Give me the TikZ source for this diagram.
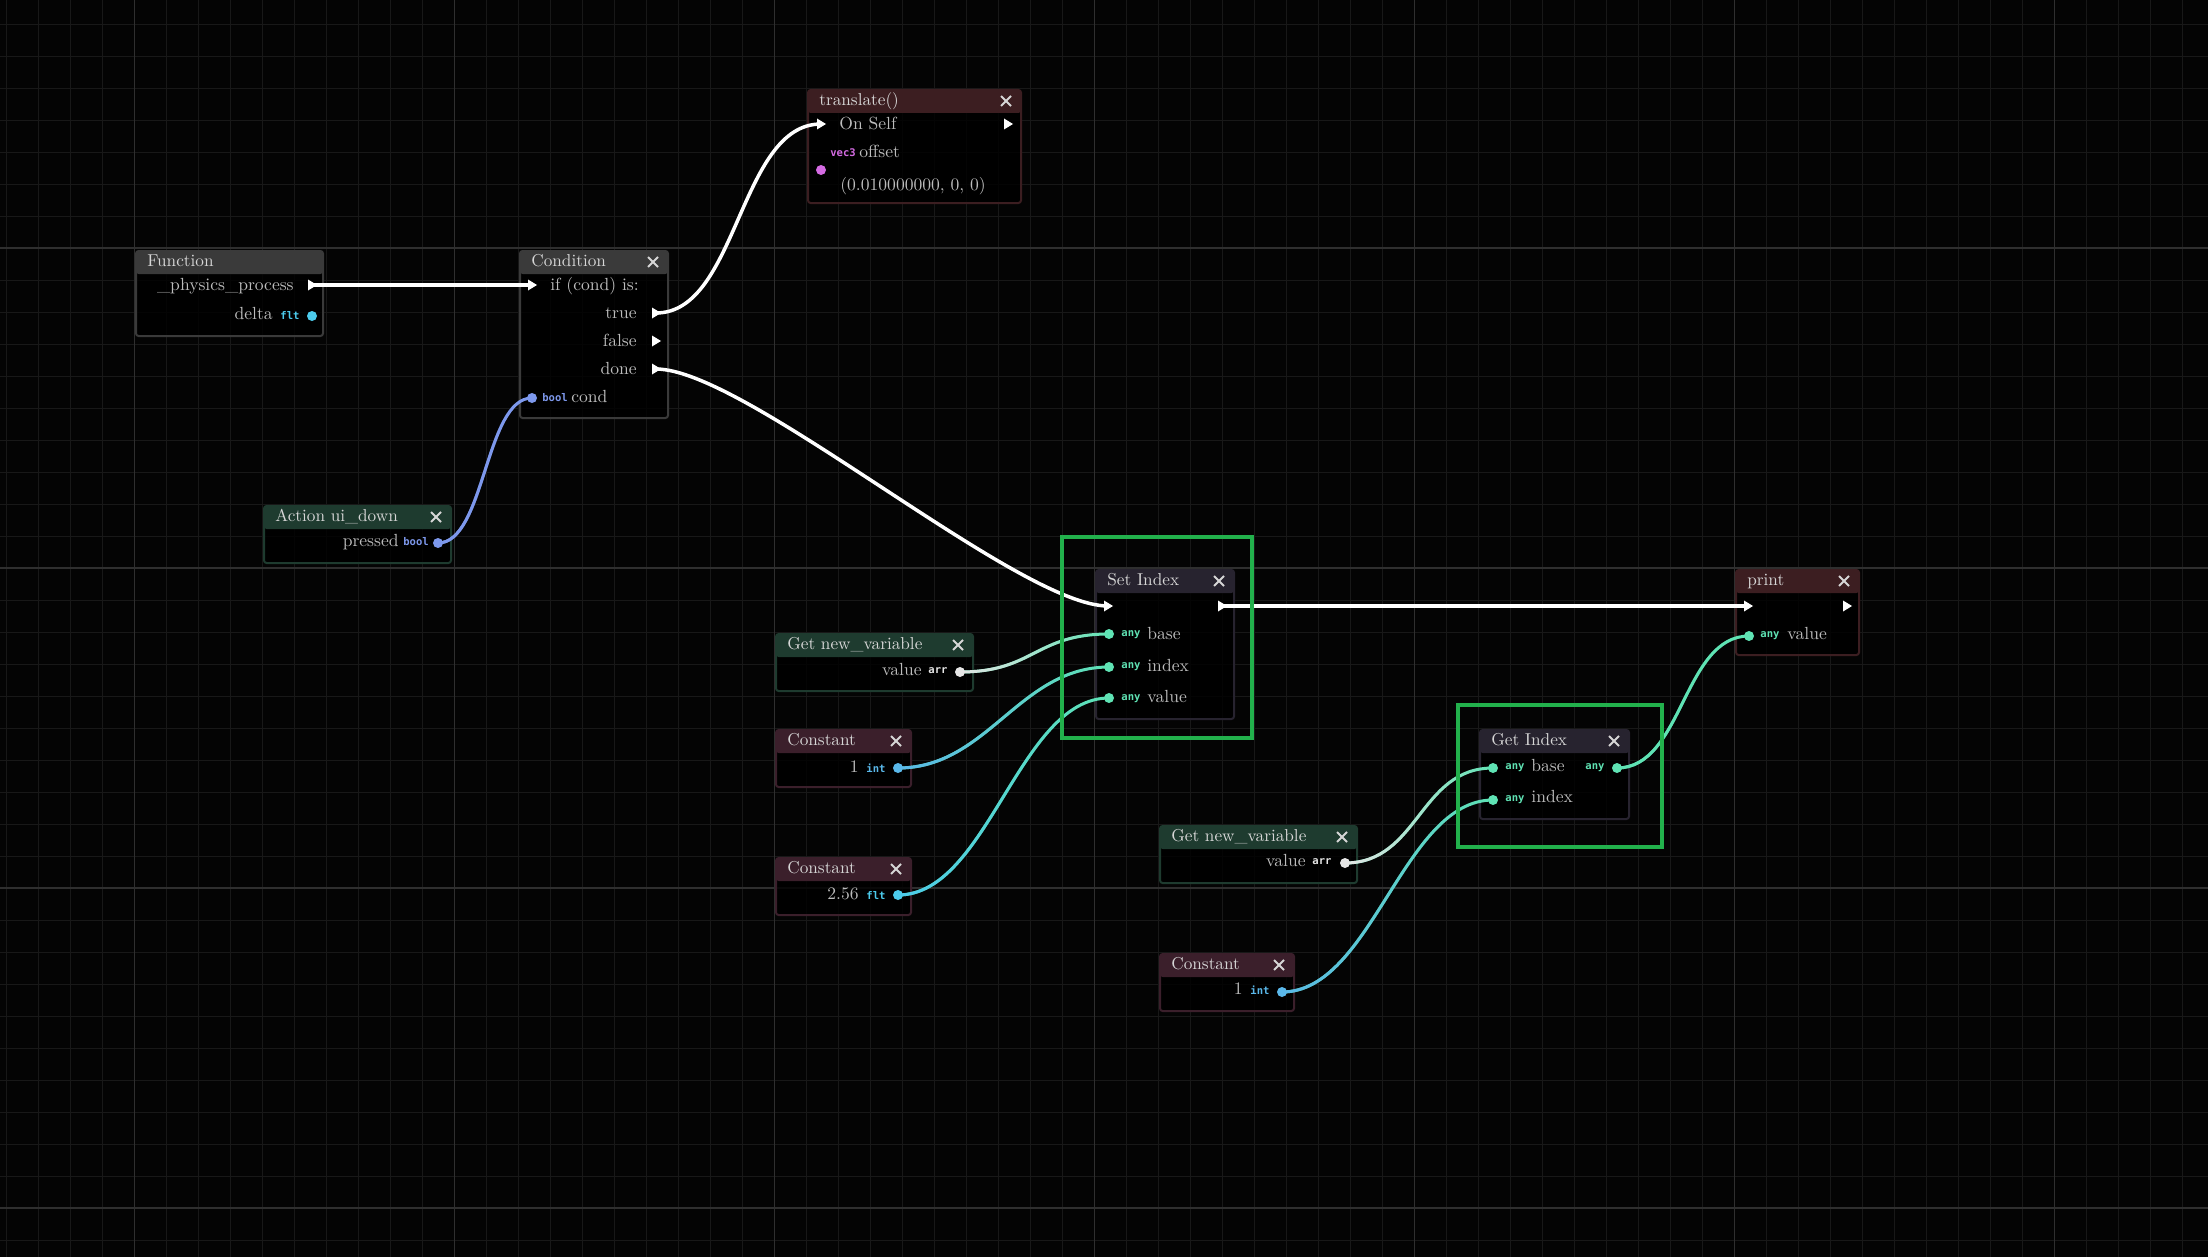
\documentclass[tikz,border=0pt]{standalone}
\usepackage{fontspec}
\newfontfamily\tagfont{DejaVu Sans Mono}
\usetikzlibrary{fadings}

\definecolor{bgc}{HTML}{040404}
\definecolor{gridminor}{HTML}{181818}
\definecolor{gridmajor}{HTML}{2F2F2F}
\definecolor{hdgrey}{HTML}{3A3A3A}
\definecolor{hdred}{HTML}{3C1E21}
\definecolor{hdgreen}{HTML}{1E3B2F}
\definecolor{hdwine}{HTML}{3B1F2B}
\definecolor{hdslate}{HTML}{27232F}
\definecolor{titlec}{HTML}{D6D6D6}
\definecolor{lblc}{HTML}{BCBCBC}
\definecolor{fltc}{HTML}{4CCBEC}
\definecolor{boolc}{HTML}{7D98EC}
\definecolor{anyc}{HTML}{5FE3B4}
\definecolor{arrc}{HTML}{E6E6E6}
\definecolor{intc}{HTML}{5AB8EA}
\definecolor{vecc}{HTML}{D46BE2}
\definecolor{hilitec}{HTML}{22B14C}

\tikzfading[name=fadeR, left color=transparent!0, right color=transparent!100]
\pgfdeclarelayer{fg}
\pgfsetlayers{main,fg}
\newcommand{\pxu}{0.02cm}

\begin{document}
\begin{tikzpicture}[x=0.02cm, y=-0.02cm,
    gbody/.style={rectangle, rounded corners=1.5pt, fill=black, fill opacity=0.82,
        line width=2*\pxu, anchor=north west, inner sep=0pt, outer sep=0pt},
    gtitle/.style={anchor=mid west, inner sep=0pt, text=titlec, font=\fontsize{9.8}{11}\selectfont},
    lbl/.style={inner sep=0pt, text=lblc, font=\fontsize{10}{12}\selectfont},
    tag/.style={inner sep=0pt, font=\tagfont\bfseries\fontsize{6}{7}\selectfont},
    dotport/.style={circle, inner sep=0pt, minimum size=10*\pxu},
    closex/.style={draw=titlec, line width=2*\pxu},
    wire/.style={line width=3*\pxu, line cap=round},
    execwire/.style={draw=white, line width=3.5*\pxu},
    hilite/.style={draw=hilitec, line width=4*\pxu}]
    \useasboundingbox (0,0) rectangle (2208,1257);

    % Background grid
    \fill[bgc] (0,0) rectangle (2208,1257);
    \foreach \x in {6.5,38.5,...,2208} \draw[gridminor, line width=1.2*\pxu] (\x,0) -- (\x,1257);
    \foreach \y in {24.3,56.3,...,1257} \draw[gridminor, line width=1.2*\pxu] (0,\y) -- (2208,\y);
    \foreach \x in {134.5,454.5,...,2208} \draw[gridmajor, line width=1.4*\pxu] (\x,0) -- (\x,1257);
    \foreach \y in {248,568,888,1208} \draw[gridmajor, line width=1.4*\pxu] (0,\y) -- (2208,\y);

    % Graph nodes: name/left/top/width/height/header/title
    \foreach \n/\x/\y/\w/\h/\hc/\ttl in {
        fn/136/251/187/85/hdgrey/Function,
        cnd/520/251/148/167/hdgrey/Condition,
        tr/808/90/213/113/hdred/translate(),
        act/264/506/187/57/hdgreen/Action ui\_down,
        gnv1/776/634/197/57/hdgreen/Get new\_variable,
        k1/776/730/135/57/hdwine/Constant,
        k2/776/858/135/57/hdwine/Constant,
        si/1096/570/138/149/hdslate/Set Index,
        pr/1736/570/123/85/hdred/print,
        gi/1480/730/149/89/hdslate/Get Index,
        gnv2/1160/826/197/57/hdgreen/Get new\_variable,
        k3/1160/954/134/57/hdwine/Constant} {
        \node[gbody, draw=\hc, minimum width=\w*\pxu, minimum height=\h*\pxu] (\n) at (\x,\y) {};
        \fill[\hc, rounded corners=1.5pt] (\n.north west) rectangle ([shift={(0,23)}]\n.north east);
        \node[gtitle] (\n-title) at ([shift={(11,12)}]\n.north west) {\ttl};
    }

    % Close buttons
    \foreach \n in {cnd,tr,act,gnv1,k1,k2,si,pr,gi,gnv2,k3}
        \draw[closex] ([shift={(-20,6)}]\n.north east) -- ++(10,10) ++(-10,0) -- ++(10,-10);

    % Row labels, right aligned
    \foreach \n/\x/\y/\s in {
        fn-l1/294/287/\_physics\_process, fn-l2/273/316/delta,
        cnd-l2/637/315/true, cnd-l3/637/343/false, cnd-l4/637/371/done,
        act-l1/399/543/pressed, gnv1-l1/922/672/value,
        k1-l1/859/769/1, k2-l1/859/896/2.56,
        gnv2-l1/1306/863/value, k3-l1/1243/991/1}
        \node[lbl, anchor=mid east] (\n) at (\x,\y) {\s};

    % Row labels, left aligned
    \foreach \n/\x/\y/\s in {
        cnd-l1/550/287/if (cond) is:, cnd-l5/571/399/cond,
        tr-l1/839/126/On Self, tr-l2/859/154/offset, tr-l3/840/187/{(0.010000000, 0, 0)},
        si-l1/1147/636/base, si-l2/1147/668/index, si-l3/1147/699/value,
        pr-l1/1787/636/value, gi-l1/1531/768/base, gi-l2/1531/799/index}
        \node[lbl, anchor=mid west] (\n) at (\x,\y) {\s};

    % Type tags
    \foreach \n/\x/\y/\cl/\s in {
        fn-t1/290/315/fltc/flt, cnd-t1/555/398/boolc/bool, tr-t1/843/153/vecc/vec3,
        act-t1/416/542/boolc/bool, gnv1-t1/938/671/arrc/arr,
        k1-t1/876/768/intc/int, k2-t1/876/895/fltc/flt,
        si-t1/1131/635/anyc/any, si-t2/1131/667/anyc/any, si-t3/1131/699/anyc/any,
        pr-t1/1770/636/anyc/any, gi-t1/1515/768/anyc/any, gi-t2/1515/800/anyc/any,
        gi-t3/1595/768/anyc/any, gnv2-t1/1322/862/arrc/arr, k3-t1/1260/990/intc/int}
        \node[tag, text=\cl] (\n) at (\x,\y) {\s};

    \begin{pgfonlayer}{fg}
    % Data ports
    \foreach \n/\x/\y/\cl in {
        fn-delta/312/316/fltc, cnd-cond/532/398/boolc, tr-offset/821/170/vecc,
        act-pr/438/543/boolc, gnv1-val/960/672/arrc,
        k1-val/898/768/intc, k2-val/898/895/fltc,
        si-base/1109/634/anyc, si-index/1109/667/anyc, si-value/1109/698/anyc,
        pr-value/1749/636/anyc, gi-base/1493/768/anyc, gi-index/1493/800/anyc,
        gi-out/1617/768/anyc, gnv2-val/1345/863/arrc, k3-val/1282/992/intc}
        \node[dotport, fill=\cl] (\n) at (\x,\y) {};

    % Sequence ports
    \foreach \n/\x/\y in {
        fn-go/312/285, cnd-go/532/285, cnd-true/656/313, cnd-false/656/341, cnd-done/656/369,
        tr-go/821/124, tr-out/1008/124, si-go/1108/606, si-out/1222/606,
        pr-go/1748/606, pr-out/1847/606} {
        \coordinate (\n) at (\x,\y);
        \fill[white] (\n) ++(-4,-5.5) -- ++(9,5.5) -- ++(-9,5.5) -- cycle;
    }

    % Highlights
    \draw[hilite] (1062,537) rectangle (1252,738);
    \draw[hilite] (1458,705) rectangle (1662,847);
    \end{pgfonlayer}

    % Sequence wires
    \draw[execwire, line width=4*\pxu] (fn-go) -- (cnd-go);
    \draw[execwire] (cnd-true) .. controls +(82,0) and +(-82,0) .. (tr-go);
    \draw[execwire] (cnd-done) .. controls +(90,0) and +(-90,0) .. (si-go);
    \draw[execwire] (si-out) -- (pr-go);

    % Data wires: from/to/offset/from colour/to colour
    \foreach \a/\b/\d/\ca/\cb in {
        act-pr/cnd-cond/47/boolc/boolc,
        gnv1-val/si-base/74/arrc/anyc,
        k1-val/si-index/90/intc/anyc,
        k2-val/si-value/90/fltc/anyc,
        gnv2-val/gi-base/74/arrc/anyc,
        k3-val/gi-index/90/intc/anyc,
        gi-out/pr-value/66/anyc/anyc} {
        \draw[wire, \cb] (\a.center) .. controls +(\d,0) and +(-\d,0) .. (\b.center);
        \draw[wire, \ca, path fading=fadeR] (\a.center) .. controls +(\d,0) and +(-\d,0) .. (\b.center);
    }
\end{tikzpicture}
\end{document}
